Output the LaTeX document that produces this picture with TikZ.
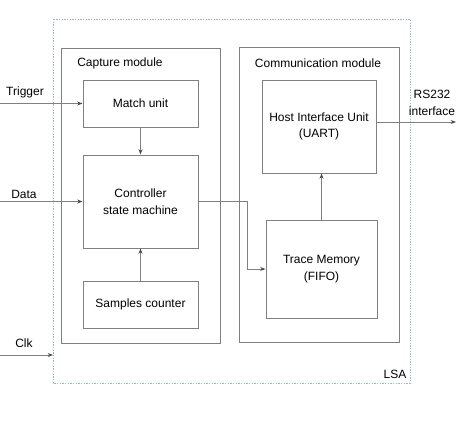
\documentclass[tikz,border=0pt]{standalone}
\usepackage{fontspec}
\setmainfont{Liberation Sans}
\usetikzlibrary{arrows.meta}
\definecolor{boxgray}{RGB}{128,128,128}
\definecolor{lsateal}{RGB}{140,195,190}
\begin{document}
\begin{tikzpicture}[x=0.75pt,y=0.75pt,yscale=-1,xscale=1,
    every node/.style={font=\fontsize{9}{12.5}\selectfont},
    unit/.style={draw=boxgray,line width=0.75pt,inner sep=0pt,align=center},
    sig/.style={draw=boxgray,line width=0.75pt,-{Stealth[length=4pt,width=3pt,black!70]}}]
    \useasboundingbox (0,0) rectangle (456,421);

    % LSA box
    \draw[lsateal,line width=0.75pt,dash pattern=on 1pt off 1pt] (53,19) rectangle (410,383);
    % Capture module
    \draw[boxgray,line width=0.75pt] (61,48) rectangle (220,343);
    % Communication module
    \draw[boxgray,line width=0.75pt] (239,47) rectangle (399,342);

    % Units
    \node[unit,minimum width=86.25pt,minimum height=35.25pt] (match) at (140.5,103.5) {Match unit};
    \node[unit,minimum width=86.25pt,minimum height=69.75pt] (ctrl) at (140.5,201.5) {Controller\\state machine};
    \node[unit,minimum width=86.25pt,minimum height=35.25pt] (samples) at (140.5,304.5) {Samples counter};
    \node[unit,minimum width=85.5pt,minimum height=69.75pt] (host) at (319,126.5) {Host Interface Unit\\(UART)};
    \node[unit,minimum width=83.25pt,minimum height=73.5pt] (trace) at (321.5,269) {Trace Memory\\(FIFO)};

    % Text Node
    \node (capture) at (120,63) {Capture module};
    % Text Node
    \node (comm) at (318,63) {Communication module};
    % Text Node
    \node (lsa) at (395,374) {LSA};
    % Text Node
    \node (trigtxt) at (25,92) {Trigger};
    % Text Node
    \node (datatxt) at (24,194) {Data};
    % Text Node
    \node (clktxt) at (24,343) {Clk};
    % Text Node
    \node[align=center] (rstxt) at (432,103) {RS232\\interface};

    % Free ends
    \coordinate (trig) at (0,103.5);
    \coordinate (data) at (0,201.5);
    \coordinate (clk) at (0,355);
    \coordinate (lsaw) at (53,355);
    \coordinate (rs) at (456,122);
    \coordinate (bend) at (247,201.5);

    % Connectors
    \draw[sig] (trig) -- (match.west);
    \draw[sig] (data) -- (ctrl.west);
    \draw[sig] (clk) -- (lsaw);
    \draw[sig] (match.south) -- (ctrl.north);
    \draw[sig] (samples.north) -- (ctrl.south);
    \draw[sig] (ctrl.east) -- (bend) |- (trace.west);
    \draw[sig] (trace.north) -- (trace.north |- host.south);
    \draw[sig] (host.east |- rs) -- (rs);

\end{tikzpicture}
\end{document}
